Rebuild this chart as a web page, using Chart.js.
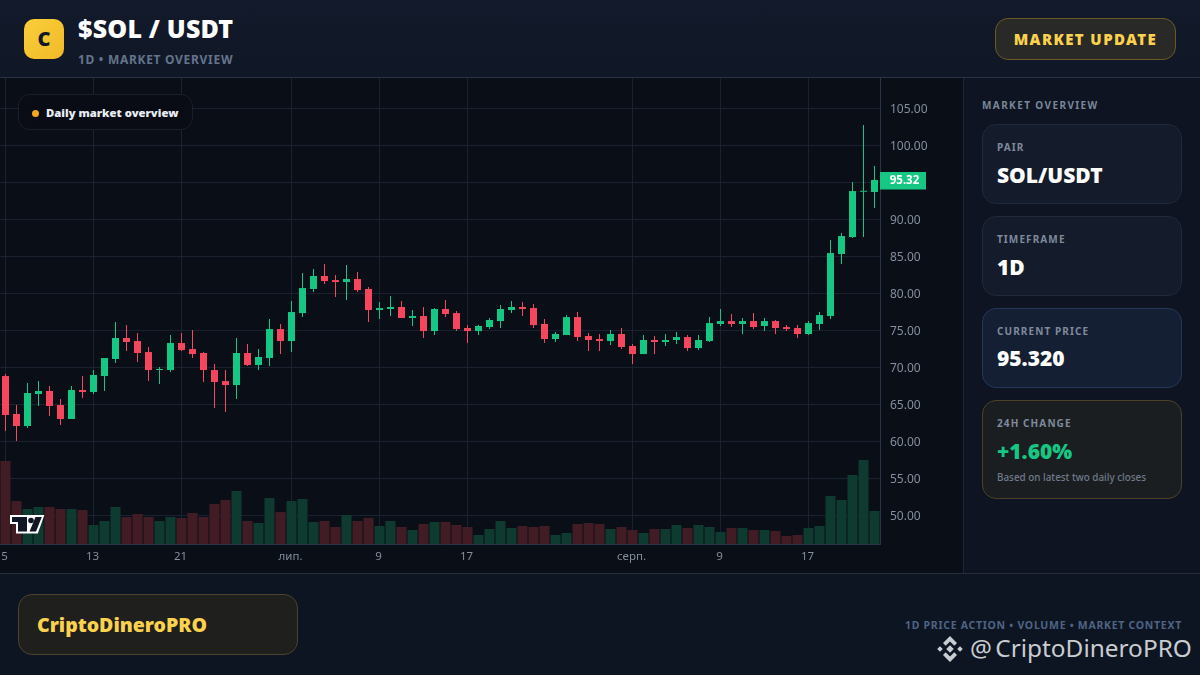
<!DOCTYPE html>
<html><head><meta charset="utf-8">
<script src="https://cdn.jsdelivr.net/npm/chart.js@4"></script>
<style>
*{box-sizing:border-box;margin:0;padding:0}
html,body{width:1200px;height:675px;overflow:hidden;background:#0d1320;font-family:"Noto Sans",sans-serif}
#hdr{position:absolute;left:0;top:0;width:1200px;height:78px;background:linear-gradient(180deg,#121a2b,#101726);border-bottom:1px solid #2a3244}
#logo{position:absolute;left:24px;top:19px;width:40px;height:40px;border-radius:10px;background:linear-gradient(135deg,#f8cf3a,#f3b928);color:#111827;font-weight:900;font-size:20px;line-height:40px;text-align:center}
#title{position:absolute;left:78px;top:11px;font-size:25px;line-height:34px;font-weight:900;color:#fff;letter-spacing:.2px}
#sub{position:absolute;left:78px;top:51px;font-size:12px;line-height:17px;font-weight:700;color:#64748b;letter-spacing:.7px}
#btn{position:absolute;left:995px;top:18px;width:181px;height:42px;border-radius:13px;background:#292a27;border:1px solid #6b5a25;color:#fbd24e;font-weight:900;font-size:15px;line-height:41px;text-align:center;letter-spacing:1.4px}
#plot{position:absolute;left:0;top:78px;width:963px;height:495px;background:#0a0e17}
#cv{position:absolute;left:0;top:0;width:963px;height:495px}
#badge{position:absolute;left:18px;top:94px;width:175px;height:36px;border-radius:12px;background:#090c14;border:1px solid #191f2b;color:#e8edf5;font-size:11.3px;font-weight:900;line-height:35px;padding-left:27px}
#badge i{position:absolute;left:13px;top:15px;width:7px;height:7px;border-radius:50%;background:#f5a623}
#tv{position:absolute;left:10px;top:515px}
#side{position:absolute;left:963px;top:78px;width:237px;height:495px;background:#0e1422;border-left:1px solid #1f2635}
#side h4{position:absolute;left:18px;top:20px;font-size:10px;line-height:14px;font-weight:700;letter-spacing:1.4px;color:#7a8798}
.card{position:absolute;left:18px;width:200px;height:80px;border-radius:14px;background:#141b2a;border:1px solid #1f2a3c}
.card b{position:absolute;left:14px;top:15px;font-size:10px;line-height:14px;font-weight:700;letter-spacing:1.1px;color:#7f8a9c}
.card span{position:absolute;left:14px;top:36px;font-size:21px;line-height:29px;font-weight:900;color:#fff}
.card em{position:absolute;left:14px;top:69px;font-style:normal;font-size:9.9px;line-height:14px;font-weight:500;color:#6f7a8a}
#ftr{position:absolute;left:0;top:573px;width:1200px;height:102px;background:#0e1522;border-top:1px solid #252d3d}
#brand{position:absolute;left:18px;top:20px;width:280px;height:61px;border-radius:14px;background:#1f1f1e;border:1px solid #4b432a;color:#fbd24e;font-size:19.5px;font-weight:900;line-height:60px;padding-left:18px}
#ftxt{position:absolute;right:18px;top:44px;font-size:10.5px;line-height:15px;font-weight:700;letter-spacing:.72px;color:#4f6484}
#wm{position:absolute;left:970px;top:630px;font-size:24.4px;line-height:36px;color:#c9ccd1;white-space:nowrap;word-spacing:-3px}
#wmi{position:absolute;left:936px;top:635px}
</style></head><body>
<div id="hdr"><div id="logo">C</div><div id="title">$SOL / USDT</div><div id="sub">1D • MARKET OVERVIEW</div><div id="btn">MARKET UPDATE</div></div>
<div id="plot"><canvas id="cv" width="963" height="495"></canvas></div>
<div id="badge"><i></i>Daily market overview</div>
<svg id="tv" width="35" height="19" viewBox="0 0 35 19"><path d="M0 0H34.4L27.8 18.5H6V9H0Z" fill="#fff"/><path d="M2 2H17V16.5H8V7H2ZM25.5 2H31.8L26 16.5H19.5Z" fill="#101623"/><circle cx="21" cy="5.5" r="2.8" fill="#101623"/></svg>
<div id="side"><h4>MARKET OVERVIEW</h4>
<div class="card" style="top:46px"><b>PAIR</b><span>SOL/USDT</span></div>
<div class="card" style="top:138px"><b>TIMEFRAME</b><span>1D</span></div>
<div class="card" style="top:230px;background:#141f33;border-color:#24375a"><b>CURRENT PRICE</b><span style="top:35px">95.320</span></div>
<div class="card" style="top:322px;height:99px;background:#1b1e21;border-color:#4b4226"><b>24H CHANGE</b><span style="color:#16c784">+1.60%</span><em>Based on latest two daily closes</em></div>
</div>
<div id="ftr"><div id="brand">CriptoDineroPRO</div><div id="ftxt">1D PRICE ACTION • VOLUME • MARKET CONTEXT</div></div>
<svg id="wmi" width="28" height="28" viewBox="0 0 28 28" fill="#c9ccd1"><path d="M14 1L21 8L18.3 10.7L14 6.4L9.7 10.7L7 8ZM14 27L21 20L18.3 17.3L14 21.6L9.7 17.3L7 20ZM14 10.2L17.8 14L14 17.8L10.2 14ZM4 11.2L6.8 14L4 16.8L1.2 14ZM24 11.2L26.8 14L24 16.8L21.2 14Z"/></svg>
<div id="wm">@ CriptoDineroPRO</div>
<script>
const categories=["06-05","06-06","06-07","06-08","06-09","06-10","06-11","06-12","06-13","06-14","06-15","06-16","06-17","06-18","06-19","06-20","06-21","06-22","06-23","06-24","06-25","06-26","06-27","06-28","06-29","06-30","07-01","07-02","07-03","07-04","07-05","07-06","07-07","07-08","07-09","07-10","07-11","07-12","07-13","07-14","07-15","07-16","07-17","07-18","07-19","07-20","07-21","07-22","07-23","07-24","07-25","07-26","07-27","07-28","07-29","07-30","07-31","08-01","08-02","08-03","08-04","08-05","08-06","08-07","08-08","08-09","08-10","08-11","08-12","08-13","08-14","08-15","08-16","08-17","08-18","08-19","08-20","08-21","08-22","08-23"];
const tickLabels={"06-05":"5","06-13":"13","06-21":"21","07-01":"лип.","07-09":"9","07-17":"17","08-01":"серп.","08-09":"9","08-17":"17"};
const opens=[68.82,63.69,62.07,66.39,66.8,64.9,63.01,66.93,66.66,68.82,71.12,73.96,73.55,72.06,69.63,69.63,73.28,72.47,71.93,69.63,68.14,67.6,71.93,70.31,71.25,75.17,73.55,77.33,80.58,82.34,81.79,81.52,81.93,80.58,77.74,77.88,78.15,76.66,76.93,74.9,77.88,77.33,75.31,74.9,75.44,76.25,77.74,78.15,78.01,75.85,73.82,74.36,76.79,74.23,73.82,73.55,74.5,72.88,71.79,73.69,73.42,73.69,74.09,72.6,73.55,75.85,76.25,75.85,76.25,75.58,76.25,75.44,75.31,74.5,75.85,76.93,85.31,87.6,93.73,93.69];
const closes=[63.55,62.07,66.53,66.8,64.77,63.01,66.93,66.66,68.96,71.26,73.96,73.42,71.93,69.63,69.77,73.28,72.33,71.79,69.63,68.01,67.6,71.93,70.31,71.39,75.17,73.55,77.47,80.71,82.34,81.66,81.52,81.93,80.44,77.74,78.01,78.15,76.66,76.93,74.9,77.88,77.2,75.17,74.9,75.58,76.39,77.88,78.15,77.88,75.71,73.82,74.5,76.79,74.09,73.69,73.55,74.5,72.74,71.79,73.69,73.42,73.69,74.09,72.6,73.69,75.98,76.25,75.85,76.25,75.44,76.25,75.31,75.17,74.5,75.98,77.06,85.44,87.74,93.82,93.82,95.32];
const highs=[69.1,64.9,67.88,68.15,67.47,65.72,67.47,68.82,69.63,71.26,76.12,75.71,74.63,72.74,70.04,74.36,74.63,75.04,72.06,70.44,69.63,73.96,73.14,72.47,76.52,75.85,78.95,82.74,83.28,83.96,82.47,83.82,82.88,80.85,78.82,79.63,78.96,77.74,78.15,78.01,79.09,77.6,75.71,75.71,76.66,78.42,78.96,78.82,78.55,76.52,74.77,77.06,77.47,74.63,74.5,75.04,75.31,73.15,74.36,74.23,74.5,74.77,74.36,74.36,76.79,77.87,77.2,76.66,77.33,76.66,76.39,75.71,75.71,76.25,77.47,87.2,88.15,95.04,102.74,97.2];
const lows=[61.39,60.04,61.8,64.77,63.42,62.2,63.01,65.85,66.39,66.8,70.58,72.2,70.71,68.14,67.74,69.36,72.2,71.25,68.01,64.5,63.96,65.71,70.17,69.63,70.17,71.79,72.06,76.79,80.17,81.25,79.5,79.09,80.17,76.12,76.52,76.93,76.66,75.58,73.96,74.36,76.79,74.9,73.28,74.36,75.17,75.31,77.33,76.93,75.31,73.28,73.42,74.36,73.55,72.2,72.2,73.01,72.47,70.44,71.79,71.79,72.88,73.15,72.2,72.33,73.42,75.58,75.44,74.5,75.17,74.9,74.5,74.9,73.96,74.36,75.04,76.52,83.96,87.47,87.6,91.52];
const volumes=[8.3,4.3,3.5,3.7,3.7,3.5,3.5,3.4,1.9,2.3,3.7,2.7,3.0,2.7,2.3,2.7,2.6,3.1,2.7,4.0,4.4,5.3,2.3,2.1,4.6,3.2,4.3,4.5,2.2,2.3,1.7,2.9,2.3,2.6,1.8,2.3,1.7,1.4,2.0,2.2,2.2,1.9,1.7,0.9,1.5,2.3,1.6,1.8,1.7,1.8,0.9,1.1,2.0,2.1,2.0,1.5,1.7,1.4,1.1,1.5,1.5,1.9,1.6,1.9,1.7,1.2,1.6,1.6,1.4,1.4,1.3,0.8,0.9,1.6,1.8,4.8,4.4,6.9,8.4,3.3];
const lastPrice=95.32;
const yTicks=[50,55,60,65,70,75,80,85,90,95,100,105];
const UP='#16c784',DOWN='#f6465d',UPV='#0f3a30',DOWNV='#421c25';
const isUp=closes.map((c,i)=>c>=opens[i]);
const bodyCol=isUp.map(u=>u?UP:DOWN), volCol=isUp.map(u=>u?UPV:DOWNV);
const noPad=s=>{s.paddingLeft=s.paddingRight=s.paddingTop=s.paddingBottom=0;};
const priceTag={id:'priceTag',afterDraw(c){const g=c.ctx,y=c.scales.y.getPixelForValue(lastPrice),a=c.chartArea;
 g.save();g.fillStyle=UP;g.fillRect(a.right,Math.round(y)-8,46,17.5);g.fillStyle='#fff';g.font='700 11.5px "Noto Sans"';g.textAlign='center';g.textBaseline='middle';g.fillText(lastPrice.toFixed(2),a.right+24.5,Math.round(y)+1);g.restore();}};
new Chart(document.getElementById('cv'),{type:'bar',plugins:[priceTag],
data:{labels:categories,datasets:[
 {label:'Volume',yAxisID:'v',data:volumes,backgroundColor:volCol,barThickness:10,inflateAmount:0,grouped:false,order:3},
 {label:'Wick',data:categories.map((_,i)=>[lows[i],highs[i]]),backgroundColor:bodyCol,barThickness:1,inflateAmount:0,grouped:false,order:2},
 {label:'Body',data:categories.map((_,i)=>[opens[i],closes[i]]),backgroundColor:bodyCol,barThickness:7,inflateAmount:0,minBarLength:1,grouped:false,order:1}
]},
options:{responsive:false,animation:false,devicePixelRatio:1,
 layout:{padding:0},
 plugins:{legend:{display:false},tooltip:{enabled:false}},
 scales:{
  x:{offset:true,grid:{offset:false,drawTicks:false,color:c=>c.tick&&tickLabels[categories[c.tick.value]]?'#1a2130':'rgba(0,0,0,0)'},border:{color:'#2a3448',width:1},
   afterFit(s){s.height=29;noPad(s);},
   ticks:{autoSkip:false,maxRotation:0,padding:6,labelOffset:-1,color:'#848e9c',font:{size:11.5,family:'"Noto Sans"'},callback(v){return tickLabels[categories[v]]||'';}}},
  y:{position:'right',min:46.12,max:109.1,afterBuildTicks(s){s.ticks=yTicks.map(value=>({value}));},afterFit(s){s.width=83;noPad(s);},
   grid:{color:'#1a2130',drawTicks:false},border:{color:'#2a3448',width:1},
   ticks:{padding:10,labelOffset:1,color:'#848e9c',font:{size:12,family:'"Noto Sans"'},callback(v){return Number(v).toFixed(2);}}},
  v:{display:false,min:0,max:46.6}
 }}});
</script>
</body></html>
